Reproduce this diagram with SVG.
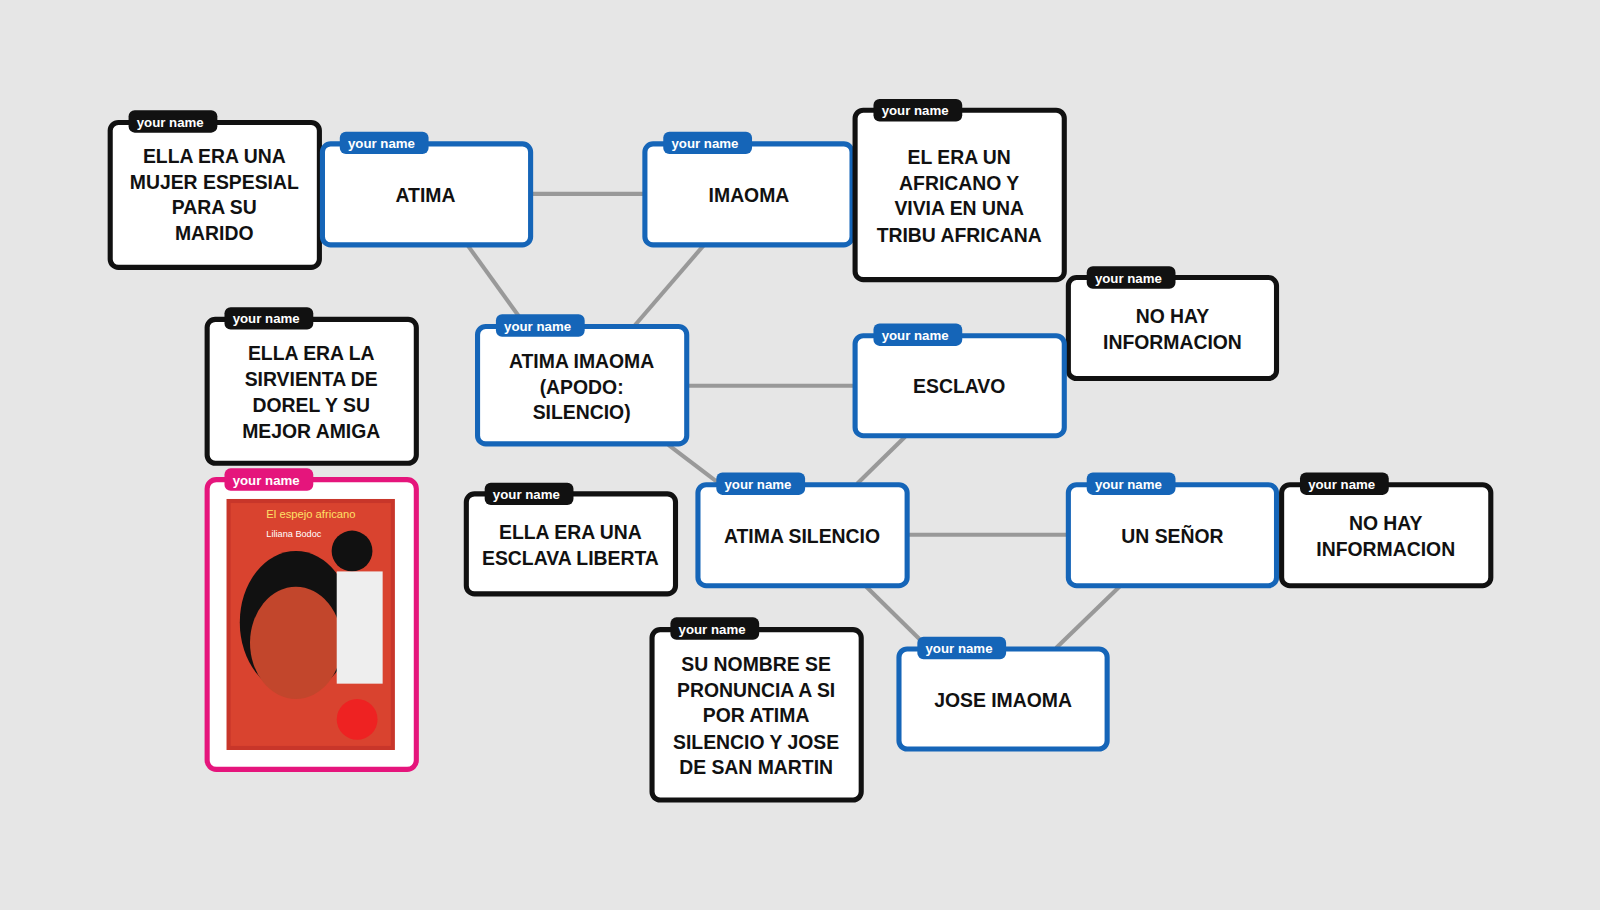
<svg xmlns="http://www.w3.org/2000/svg" width="1600" height="910" viewBox="0 0 1600 910">
<style>
.bk{fill:#fff;stroke:#111;stroke-width:5}
.bl{fill:#fff;stroke:#1565b8;stroke-width:5}
.tb{fill:#111}.tbb{fill:#1565b8}.tbp{fill:#e5157c}
.tt{font-family:"Liberation Sans",Arial,sans-serif;font-weight:bold;font-size:13px;fill:#fff}
.t{font-family:"Liberation Sans",Arial,sans-serif;font-weight:bold;font-size:19px;fill:#111;text-anchor:middle}
.e{stroke:#999;stroke-width:4;fill:none}
</style>
<rect width="1600" height="910" fill="#e6e6e6"/>
<g transform="scale(1.0204)">
<g id="connectors">
<line class="e" x1="520" y1="190" x2="631" y2="190"/>
<line class="e" x1="458" y1="240" x2="515" y2="319"/>
<line class="e" x1="690" y1="240" x2="622" y2="319"/>
<line class="e" x1="673" y1="378" x2="837" y2="378"/>
<line class="e" x1="655" y1="436" x2="705" y2="474"/>
<line class="e" x1="887" y1="428" x2="840" y2="474"/>
<line class="e" x1="889" y1="524" x2="1046" y2="524"/>
<line class="e" x1="848" y1="574" x2="910" y2="635"/>
<line class="e" x1="1098" y1="574" x2="1035" y2="635"/>
</g>
<g id="n1"><rect class="bk" x="108" y="120" width="205" height="142" rx="8"/><rect class="tb" x="126" y="108" width="87" height="22" rx="6"/><text class="tt" x="134" y="124">your name</text>
<text class="t" x="210" y="160">ELLA ERA UNA</text><text class="t" x="210" y="185">MUJER ESPESIAL</text><text class="t" x="210" y="210">PARA SU</text><text class="t" x="210" y="235">MARIDO</text></g>
<g id="n2"><rect class="bl" x="316" y="141" width="204" height="99" rx="8"/><rect class="tbb" x="333" y="129" width="87" height="22" rx="6"/><text class="tt" x="341" y="145">your name</text><text class="t" x="417" y="198">ATIMA</text></g>
<g id="n3"><rect class="bl" x="632" y="141" width="203" height="99" rx="8"/><rect class="tbb" x="650" y="129" width="87" height="22" rx="6"/><text class="tt" x="658" y="145">your name</text><text class="t" x="734" y="198">IMAOMA</text></g>
<g id="n4"><rect class="bk" x="838" y="108" width="205" height="166" rx="8"/><rect class="tb" x="856" y="97" width="87" height="22" rx="6"/><text class="tt" x="864" y="113">your name</text>
<text class="t" x="940" y="161">EL ERA UN</text><text class="t" x="940" y="186">AFRICANO Y</text><text class="t" x="940" y="211">VIVIA EN UNA</text><text class="t" x="940" y="237">TRIBU AFRICANA</text></g>
<g id="n5"><rect class="bk" x="1047" y="272" width="204" height="99" rx="8"/><rect class="tb" x="1065" y="261" width="87" height="22" rx="6"/><text class="tt" x="1073" y="277">your name</text>
<text class="t" x="1149" y="317">NO HAY</text><text class="t" x="1149" y="342">INFORMACION</text></g>
<g id="n6"><rect class="bk" x="203" y="313" width="205" height="141" rx="8"/><rect class="tb" x="220" y="301" width="87" height="22" rx="6"/><text class="tt" x="228" y="317">your name</text>
<text class="t" x="305" y="353">ELLA ERA LA</text><text class="t" x="305" y="378">SIRVIENTA DE</text><text class="t" x="305" y="404">DOREL Y SU</text><text class="t" x="305" y="429">MEJOR AMIGA</text></g>
<g id="n7"><rect class="bl" x="468" y="320" width="205" height="115" rx="8"/><rect class="tbb" x="486" y="308" width="87" height="22" rx="6"/><text class="tt" x="494" y="324">your name</text>
<text class="t" x="570" y="361">ATIMA IMAOMA</text><text class="t" x="570" y="386">(APODO:</text><text class="t" x="570" y="411">SILENCIO)</text></g>
<g id="n8"><rect class="bl" x="838" y="329" width="205" height="98" rx="8"/><rect class="tbb" x="856" y="317" width="87" height="22" rx="6"/><text class="tt" x="864" y="333">your name</text><text class="t" x="940" y="385">ESCLAVO</text></g>
<g id="n9"><rect x="203" y="470" width="205" height="284" rx="9" fill="#fff" stroke="#e5157c" stroke-width="5"/><rect class="tbp" x="220" y="459" width="87" height="22" rx="6"/><text class="tt" x="228" y="475">your name</text>
<rect x="222" y="489" width="165" height="246" fill="#c8362a"/><rect x="226" y="493" width="157" height="238" fill="#d9432f"/>
<ellipse cx="290" cy="610" rx="55" ry="70" fill="#111"/><ellipse cx="290" cy="630" rx="45" ry="55" fill="#c2462c"/><circle cx="345" cy="540" r="20" fill="#111"/><rect x="330" y="560" width="45" height="110" fill="#eee"/><circle cx="350" cy="705" r="20" fill="#e22"/>
<text x="261" y="508" font-family="Liberation Sans,Arial,sans-serif" font-size="11" fill="#ffe066">El espejo africano</text>
<text x="261" y="526" font-family="Liberation Sans,Arial,sans-serif" font-size="9" fill="#fff">Liliana Bodoc</text></g>
<g id="n10"><rect class="bk" x="457" y="484" width="205" height="98" rx="8"/><rect class="tb" x="475" y="473" width="87" height="22" rx="6"/><text class="tt" x="483" y="489">your name</text>
<text class="t" x="559" y="528">ELLA ERA UNA</text><text class="t" x="559" y="554">ESCLAVA LIBERTA</text></g>
<g id="n11"><rect class="bl" x="684" y="475" width="205" height="99" rx="8"/><rect class="tbb" x="702" y="463" width="87" height="22" rx="6"/><text class="tt" x="710" y="479">your name</text><text class="t" x="786" y="532">ATIMA SILENCIO</text></g>
<g id="n12"><rect class="bl" x="1047" y="475" width="204" height="99" rx="8"/><rect class="tbb" x="1065" y="463" width="87" height="22" rx="6"/><text class="tt" x="1073" y="479">your name</text><text class="t" x="1149" y="532">UN SEÑOR</text></g>
<g id="n13"><rect class="bk" x="1256" y="475" width="205" height="99" rx="8"/><rect class="tb" x="1274" y="463" width="87" height="22" rx="6"/><text class="tt" x="1282" y="479">your name</text>
<text class="t" x="1358" y="519">NO HAY</text><text class="t" x="1358" y="545">INFORMACION</text></g>
<g id="n14"><rect class="bk" x="639" y="617" width="205" height="167" rx="8"/><rect class="tb" x="657" y="605" width="87" height="22" rx="6"/><text class="tt" x="665" y="621">your name</text>
<text class="t" x="741" y="658">SU NOMBRE SE</text><text class="t" x="741" y="683">PRONUNCIA A SI</text><text class="t" x="741" y="708">POR ATIMA</text><text class="t" x="741" y="734">SILENCIO Y JOSE</text><text class="t" x="741" y="759">DE SAN MARTIN</text></g>
<g id="n15"><rect class="bl" x="881" y="636" width="204" height="98" rx="8"/><rect class="tbb" x="899" y="624" width="87" height="22" rx="6"/><text class="tt" x="907" y="640">your name</text><text class="t" x="983" y="693">JOSE IMAOMA</text></g>
</g>
</svg>
